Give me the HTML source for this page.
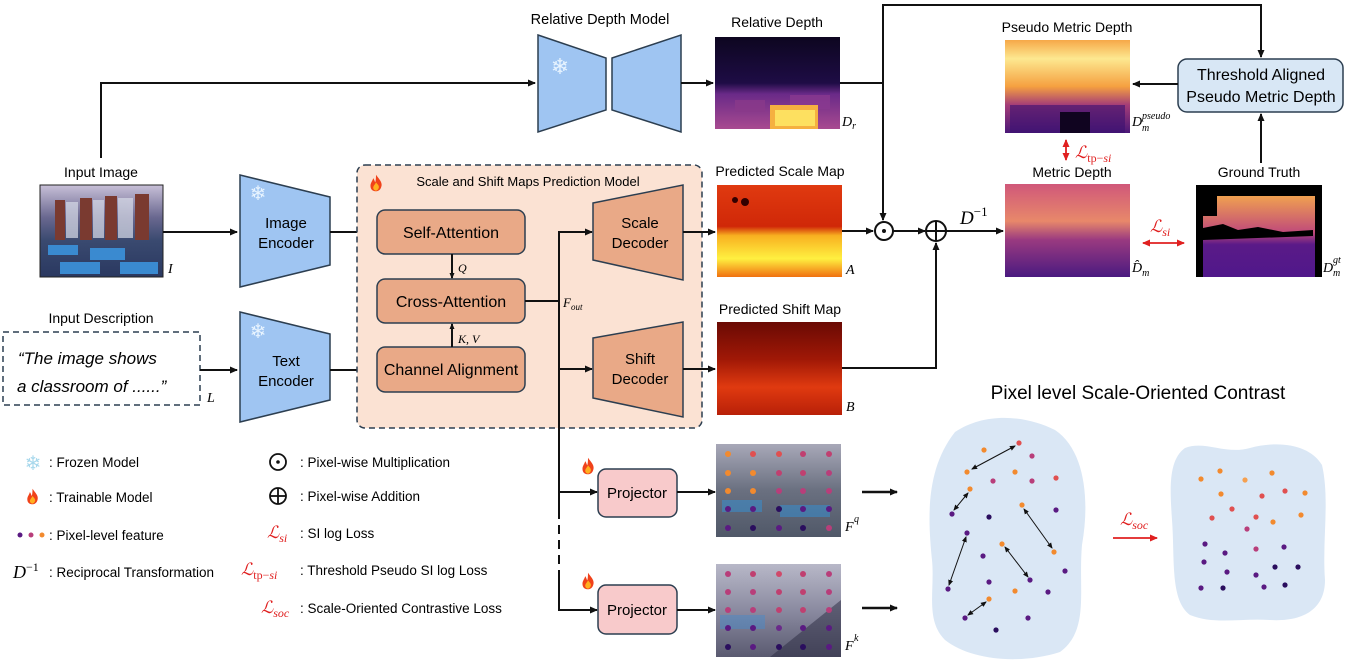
<!DOCTYPE html>
<html><head><meta charset="utf-8"><style>
html,body{margin:0;padding:0;background:#fff;}
svg{display:block;font-family:"Liberation Sans",sans-serif;}
.m{font-family:"Liberation Serif","DejaVu Serif",serif;font-style:italic;}
.r{fill:#e02020;}
</style></head><body>
<svg width="1353" height="662" viewBox="0 0 1353 662" xmlns="http://www.w3.org/2000/svg">
<defs>
<marker id="ah" markerWidth="8" markerHeight="8" refX="7" refY="4" orient="auto" markerUnits="userSpaceOnUse"><path d="M0,0.5 L8,4 L0,7.5 z" fill="#111"/></marker>
<marker id="rh" markerWidth="8" markerHeight="8" refX="7" refY="4" orient="auto-start-reverse" markerUnits="userSpaceOnUse"><path d="M0,0.5 L8,4 L0,7.5 z" fill="#e02020"/></marker>
<marker id="sh" markerWidth="6" markerHeight="6" refX="5" refY="3" orient="auto-start-reverse" markerUnits="userSpaceOnUse"><path d="M0,0.5 L6,3 L0,5.5 z" fill="#111"/></marker>
<symbol id="fire" viewBox="0 0 20 26"><path d="M10,1 C14,7 19,11 18,17 C17,23 13,25 10,25 C6,25 2,23 2,17 C2,13 5,10 6,6 C8,9 8,11 9,12 C10,8 10,4 10,1z" fill="#f0421a"/><path d="M10,12 C12,15 15,17 14,20 C13,23 11,24 10,24 C8,24 6,22 6,20 C6,17 9,15 10,12z" fill="#ffb020"/></symbol>
<linearGradient id="gRel" x1="0" y1="0" x2="0" y2="1"><stop offset="0" stop-color="#0d0620"/><stop offset="0.5" stop-color="#1e0c45"/><stop offset="0.62" stop-color="#6a2a88"/><stop offset="1" stop-color="#a84a90"/></linearGradient>
<linearGradient id="gPs" x1="0" y1="0" x2="0" y2="1"><stop offset="0" stop-color="#f6a848"/><stop offset="0.2" stop-color="#fde890"/><stop offset="0.5" stop-color="#f5a040"/><stop offset="0.7" stop-color="#a43c78"/><stop offset="1" stop-color="#4a1878"/></linearGradient>
<linearGradient id="gMet" x1="0" y1="0" x2="0" y2="1"><stop offset="0" stop-color="#d0587a"/><stop offset="0.4" stop-color="#e8886a"/><stop offset="0.6" stop-color="#9a3a80"/><stop offset="1" stop-color="#4a1a80"/></linearGradient>
<linearGradient id="gGT" x1="0" y1="0" x2="0" y2="1"><stop offset="0" stop-color="#f0a050"/><stop offset="0.45" stop-color="#c04a7a"/><stop offset="0.6" stop-color="#5a1a88"/><stop offset="1" stop-color="#50188a"/></linearGradient>
<linearGradient id="gSc" x1="0" y1="0" x2="0" y2="1"><stop offset="0" stop-color="#e03a10"/><stop offset="0.45" stop-color="#d02808"/><stop offset="0.55" stop-color="#f8b020"/><stop offset="0.8" stop-color="#fff040"/><stop offset="1" stop-color="#f07010"/></linearGradient>
<linearGradient id="gSh" x1="0" y1="0" x2="0" y2="1"><stop offset="0" stop-color="#6a0a04"/><stop offset="0.4" stop-color="#a01806"/><stop offset="0.7" stop-color="#e03a10"/><stop offset="1" stop-color="#b82008"/></linearGradient>
<linearGradient id="gIn" x1="0" y1="0" x2="0" y2="1"><stop offset="0" stop-color="#c8c0d8"/><stop offset="0.35" stop-color="#6a6890"/><stop offset="0.6" stop-color="#3a4a70"/><stop offset="1" stop-color="#2a3860"/></linearGradient>
<linearGradient id="gFq" x1="0" y1="0" x2="0" y2="1"><stop offset="0" stop-color="#a8a8b8"/><stop offset="0.5" stop-color="#6a7080"/><stop offset="1" stop-color="#505868"/></linearGradient>
<linearGradient id="gFk" x1="0" y1="0" x2="0" y2="1"><stop offset="0" stop-color="#b8b8c8"/><stop offset="0.5" stop-color="#8a8aa0"/><stop offset="1" stop-color="#5a5a70"/></linearGradient>
</defs>

<text x="600" y="24" font-size="14.5" text-anchor="middle">Relative Depth Model</text>
<polygon points="538,35 606,58 606,110 538,132" fill="#9fc5f2" stroke="#2c3e50" stroke-width="1.5"/>
<polygon points="612,58 681,35 681,132 612,110" fill="#9fc5f2" stroke="#2c3e50" stroke-width="1.5"/>
<text x="560" y="74" font-size="22" fill="#e8f4ff" text-anchor="middle">❄</text>
<polyline points="101,158 101,83 535,83" fill="none" stroke="#111" stroke-width="2" marker-end="url(#ah)"/>
<line x1="681" y1="83" x2="713" y2="83" stroke="#111" stroke-width="2" marker-end="url(#ah)"/>

<text x="777" y="27" font-size="14" text-anchor="middle">Relative Depth</text>
<rect x="715" y="37" width="125" height="92" fill="url(#gRel)"/>
<rect x="735" y="100" width="30" height="12" fill="#8a3a8a" opacity="0.8"/>
<rect x="790" y="95" width="40" height="14" fill="#8a3a90" opacity="0.8"/>
<rect x="770" y="105" width="48" height="24" fill="#f5b040"/><rect x="775" y="110" width="40" height="16" fill="#fde060"/>
<text x="842" y="126" class="m" font-size="14">D<tspan font-size="10" dy="3">r</tspan></text>

<polyline points="840,83 883,83" fill="none" stroke="#111" stroke-width="2"/>
<line x1="883" y1="4" x2="883" y2="220" stroke="#111" stroke-width="2" marker-end="url(#ah)"/>
<polyline points="883,5 1261,5 1261,57" fill="none" stroke="#111" stroke-width="2" marker-end="url(#ah)"/>

<rect x="1178" y="59" width="165" height="53" rx="9" fill="#d8e7f5" stroke="#2c3e50" stroke-width="1.5"/>
<text x="1261" y="80" font-size="16" text-anchor="middle">Threshold Aligned</text>
<text x="1261" y="102" font-size="16" text-anchor="middle">Pseudo Metric Depth</text>
<line x1="1178" y1="84" x2="1133" y2="84" stroke="#111" stroke-width="2" marker-end="url(#ah)"/>
<line x1="1261" y1="163" x2="1261" y2="114" stroke="#111" stroke-width="2" marker-end="url(#ah)"/>

<text x="1067" y="32" font-size="14" text-anchor="middle">Pseudo Metric Depth</text>
<rect x="1005" y="40" width="125" height="93" fill="url(#gPs)"/>
<rect x="1010" y="105" width="115" height="28" fill="#3a1070" opacity="0.6"/>
<rect x="1060" y="112" width="30" height="21" fill="#100420"/>
<text x="1132" y="126" class="m" font-size="14">D</text>
<text x="1142" y="131" class="m" font-size="10">m</text>
<text x="1142" y="119" class="m" font-size="10">pseudo</text>

<line x1="1066" y1="140" x2="1066" y2="160" stroke="#e02020" stroke-width="1.8" marker-start="url(#rh)" marker-end="url(#rh)"/>
<text x="1075" y="158" class="m r" font-size="17">ℒ<tspan font-size="12" dy="4" font-style="normal">tp−</tspan><tspan font-size="12">si</tspan></text>

<text x="1072" y="177" font-size="14" text-anchor="middle">Metric Depth</text>
<rect x="1005" y="184" width="125" height="93" fill="url(#gMet)"/>
<text x="1132" y="272" class="m" font-size="14">D̂<tspan font-size="10" dy="4">m</tspan></text>

<line x1="1143" y1="243" x2="1184" y2="243" stroke="#e02020" stroke-width="1.8" marker-start="url(#rh)" marker-end="url(#rh)"/>
<text x="1150" y="232" class="m r" font-size="17">ℒ<tspan font-size="12" dy="4">si</tspan></text>

<text x="1259" y="177" font-size="14" text-anchor="middle">Ground Truth</text>
<rect x="1196" y="185" width="126" height="92" fill="#000"/>
<rect x="1203" y="196" width="112" height="81" fill="url(#gGT)"/>
<rect x="1203" y="196" width="14" height="20" fill="#000"/>
<path d="M1203,228 l20,-4 l15,6 l20,-3 l25,5 l30,-2 l0,6 l-110,4z" fill="#000"/>
<text x="1323" y="272" class="m" font-size="14">D</text>
<text x="1333" y="276" class="m" font-size="10">m</text>
<text x="1333" y="263" class="m" font-size="10">gt</text>

<text x="101" y="177" font-size="14" text-anchor="middle">Input Image</text>
<rect x="40" y="185" width="123" height="92" fill="url(#gIn)" stroke="#222"/>
<g fill="#7a3a30"><rect x="55" y="200" width="10" height="40"/><rect x="80" y="198" width="12" height="42"/><rect x="105" y="196" width="12" height="44"/><rect x="135" y="194" width="14" height="46"/></g>
<g fill="#d8dce8" opacity="0.7"><rect x="66" y="202" width="12" height="36"/><rect x="93" y="200" width="11" height="38"/><rect x="118" y="198" width="15" height="40"/></g>
<g fill="#3a8ad0"><rect x="48" y="245" width="30" height="10"/><rect x="90" y="248" width="35" height="12"/><rect x="60" y="262" width="40" height="12"/><rect x="120" y="262" width="38" height="12"/></g>
<text x="168" y="273" class="m" font-size="14">I</text>
<line x1="163" y1="232" x2="237" y2="232" stroke="#111" stroke-width="2" marker-end="url(#ah)"/>

<polygon points="240,175 330,197 330,265 240,287" fill="#9fc5f2" stroke="#2c3e50" stroke-width="1.5"/>
<text x="258" y="200" font-size="20" fill="#e8f4ff" text-anchor="middle">❄</text>
<text x="286" y="228" font-size="15" text-anchor="middle">Image</text>
<text x="286" y="248" font-size="15" text-anchor="middle">Encoder</text>
<line x1="330" y1="232" x2="376" y2="232" stroke="#111" stroke-width="2" marker-end="url(#ah)"/>

<text x="101" y="323" font-size="14" text-anchor="middle">Input Description</text>
<rect x="3" y="332" width="197" height="73" fill="none" stroke="#2c3e50" stroke-width="1.5" stroke-dasharray="6,4"/>
<text x="18" y="364" font-size="17" font-style="italic">“The image shows</text>
<text x="17" y="392" font-size="17" font-style="italic">a classroom of ......”</text>
<text x="207" y="402" class="m" font-size="14">L</text>
<line x1="200" y1="370" x2="237" y2="370" stroke="#111" stroke-width="2" marker-end="url(#ah)"/>

<polygon points="240,312 330,334 330,400 240,422" fill="#9fc5f2" stroke="#2c3e50" stroke-width="1.5"/>
<text x="258" y="338" font-size="20" fill="#e8f4ff" text-anchor="middle">❄</text>
<text x="286" y="366" font-size="15" text-anchor="middle">Text</text>
<text x="286" y="386" font-size="15" text-anchor="middle">Encoder</text>
<line x1="330" y1="370" x2="376" y2="370" stroke="#111" stroke-width="2" marker-end="url(#ah)"/>

<rect x="357" y="165" width="345" height="263" rx="8" fill="#fbe2d3" stroke="#2c3e50" stroke-width="1.5" stroke-dasharray="6,4"/>
<use href="#fire" x="369" y="174" width="14" height="18"/>
<text x="528" y="186" font-size="13" text-anchor="middle">Scale and Shift Maps Prediction Model</text>
<rect x="377" y="210" width="148" height="44" rx="8" fill="#e9a987" stroke="#2c3e50" stroke-width="1.5"/>
<text x="451" y="238" font-size="16" text-anchor="middle">Self-Attention</text>
<rect x="377" y="279" width="148" height="44" rx="8" fill="#e9a987" stroke="#2c3e50" stroke-width="1.5"/>
<text x="451" y="307" font-size="16" text-anchor="middle">Cross-Attention</text>
<rect x="377" y="347" width="148" height="45" rx="8" fill="#e9a987" stroke="#2c3e50" stroke-width="1.5"/>
<text x="451" y="375" font-size="16" text-anchor="middle">Channel Alignment</text>
<line x1="452" y1="254" x2="452" y2="278" stroke="#111" stroke-width="2" marker-end="url(#sh)"/>
<text x="458" y="272" class="m" font-size="12">Q</text>
<line x1="452" y1="347" x2="452" y2="324" stroke="#111" stroke-width="2" marker-end="url(#sh)"/>
<text x="458" y="343" class="m" font-size="12">K, V</text>

<line x1="525" y1="301" x2="559" y2="301" stroke="#111" stroke-width="2"/>
<text x="563" y="307" class="m" font-size="13">F<tspan font-size="9" dy="3">out</tspan></text>
<line x1="559" y1="232" x2="559" y2="510" stroke="#111" stroke-width="2"/>
<line x1="559" y1="510" x2="559" y2="570" stroke="#111" stroke-width="2" stroke-dasharray="9,6"/>
<line x1="559" y1="570" x2="559" y2="611" stroke="#111" stroke-width="2"/>
<line x1="558" y1="232" x2="592" y2="232" stroke="#111" stroke-width="2" marker-end="url(#ah)"/>
<line x1="558" y1="369" x2="592" y2="369" stroke="#111" stroke-width="2" marker-end="url(#ah)"/>

<polygon points="593,203 683,185 683,280 593,260" fill="#e9a987" stroke="#2c3e50" stroke-width="1.5"/>
<text x="640" y="228" font-size="15" text-anchor="middle">Scale</text>
<text x="640" y="248" font-size="15" text-anchor="middle">Decoder</text>
<polygon points="593,338 683,322 683,417 593,398" fill="#e9a987" stroke="#2c3e50" stroke-width="1.5"/>
<text x="640" y="364" font-size="15" text-anchor="middle">Shift</text>
<text x="640" y="384" font-size="15" text-anchor="middle">Decoder</text>
<line x1="683" y1="232" x2="715" y2="232" stroke="#111" stroke-width="2" marker-end="url(#ah)"/>
<line x1="683" y1="369" x2="715" y2="369" stroke="#111" stroke-width="2" marker-end="url(#ah)"/>

<text x="780" y="176" font-size="14" text-anchor="middle">Predicted Scale Map</text>
<rect x="717" y="185" width="125" height="92" fill="url(#gSc)"/>
<circle cx="735" cy="200" r="3" fill="#300"/><circle cx="745" cy="202" r="4" fill="#300"/>
<text x="846" y="274" class="m" font-size="14">A</text>
<line x1="842" y1="231" x2="873" y2="231" stroke="#111" stroke-width="2" marker-end="url(#ah)"/>
<circle cx="884" cy="231" r="9" fill="#fff" stroke="#111" stroke-width="2"/><circle cx="884" cy="231" r="2" fill="#111"/>
<line x1="893" y1="231" x2="925" y2="231" stroke="#111" stroke-width="2" marker-end="url(#ah)"/>
<circle cx="936" cy="231" r="10" fill="#fff" stroke="#111" stroke-width="2"/>
<line x1="926" y1="231" x2="946" y2="231" stroke="#111" stroke-width="2"/><line x1="936" y1="221" x2="936" y2="241" stroke="#111" stroke-width="2"/>
<line x1="946" y1="231" x2="1003" y2="231" stroke="#111" stroke-width="2" marker-end="url(#ah)"/>
<text x="960" y="224" class="m" font-size="19">D<tspan font-size="13" dy="-8" font-style="normal">−1</tspan></text>

<text x="780" y="314" font-size="14" text-anchor="middle">Predicted Shift Map</text>
<rect x="717" y="322" width="125" height="93" fill="url(#gSh)"/>
<text x="846" y="411" class="m" font-size="14">B</text>
<polyline points="842,368 936,368 936,243" fill="none" stroke="#111" stroke-width="2" marker-end="url(#ah)"/>

<line x1="558" y1="492" x2="597" y2="492" stroke="#111" stroke-width="2" marker-end="url(#ah)"/>
<line x1="558" y1="610" x2="597" y2="610" stroke="#111" stroke-width="2" marker-end="url(#ah)"/>
<use href="#fire" x="581" y="457" width="14" height="18"/>
<use href="#fire" x="581" y="572" width="14" height="18"/>
<rect x="598" y="469" width="79" height="48" rx="8" fill="#f8cacb" stroke="#2c3e50" stroke-width="1.5"/>
<text x="637" y="498" font-size="15" text-anchor="middle">Projector</text>
<rect x="598" y="585" width="79" height="49" rx="8" fill="#f8cacb" stroke="#2c3e50" stroke-width="1.5"/>
<text x="637" y="615" font-size="15" text-anchor="middle">Projector</text>
<line x1="677" y1="492" x2="715" y2="492" stroke="#111" stroke-width="2" marker-end="url(#ah)"/>
<line x1="677" y1="610" x2="715" y2="610" stroke="#111" stroke-width="2" marker-end="url(#ah)"/>

<rect x="716" y="444" width="125" height="93" fill="url(#gFq)"/>
<g fill="#3a8ac8" opacity="0.6"><rect x="722" y="500" width="40" height="12"/><rect x="780" y="505" width="50" height="12"/></g>
<rect x="716" y="564" width="125" height="93" fill="url(#gFk)"/>
<g fill="#4a8ac8" opacity="0.5"><rect x="720" y="615" width="45" height="14"/></g>
<g fill="#2a2a40" opacity="0.5"><polygon points="770,657 841,600 841,657"/></g>
<g>
<circle cx="728" cy="454" r="3" fill="#f28a2e"/><circle cx="753" cy="454" r="3" fill="#e05050"/><circle cx="779" cy="454" r="3" fill="#e05050"/><circle cx="803" cy="454" r="3" fill="#c04070"/><circle cx="829" cy="454" r="3" fill="#c04070"/>
<circle cx="728" cy="473" r="3" fill="#f28a2e"/><circle cx="753" cy="473" r="3" fill="#f28a2e"/><circle cx="779" cy="473" r="3" fill="#c04070"/><circle cx="803" cy="473" r="3" fill="#c04070"/><circle cx="829" cy="473" r="3" fill="#b83e7a"/>
<circle cx="728" cy="491" r="3" fill="#f28a2e"/><circle cx="753" cy="491" r="3" fill="#f28a2e"/><circle cx="779" cy="491" r="3" fill="#b83e7a"/><circle cx="803" cy="491" r="3" fill="#b83e7a"/><circle cx="829" cy="491" r="3" fill="#b83e7a"/>
<circle cx="728" cy="509" r="3" fill="#5a1a82"/><circle cx="753" cy="509" r="3" fill="#5a1a82"/><circle cx="779" cy="509" r="3" fill="#2a0e5e"/><circle cx="803" cy="509" r="3" fill="#5a1a82"/><circle cx="829" cy="509" r="3" fill="#5a1a82"/>
<circle cx="728" cy="528" r="3" fill="#5a1a82"/><circle cx="753" cy="528" r="3" fill="#2a0e5e"/><circle cx="779" cy="528" r="3" fill="#5a1a82"/><circle cx="803" cy="528" r="3" fill="#2a0e5e"/><circle cx="829" cy="528" r="3" fill="#b83e7a"/>
<circle cx="728" cy="574" r="3" fill="#b83e7a"/><circle cx="753" cy="574" r="3" fill="#c04070"/><circle cx="779" cy="574" r="3" fill="#d04a6a"/><circle cx="803" cy="574" r="3" fill="#c04070"/><circle cx="829" cy="574" r="3" fill="#b83e7a"/>
<circle cx="728" cy="592" r="3" fill="#b83e7a"/><circle cx="753" cy="592" r="3" fill="#b83e7a"/><circle cx="779" cy="592" r="3" fill="#c04070"/><circle cx="803" cy="592" r="3" fill="#c04070"/><circle cx="829" cy="592" r="3" fill="#b83e7a"/>
<circle cx="728" cy="610" r="3" fill="#b83e7a"/><circle cx="753" cy="610" r="3" fill="#b83e7a"/><circle cx="779" cy="610" r="3" fill="#c04070"/><circle cx="803" cy="610" r="3" fill="#c04070"/><circle cx="829" cy="610" r="3" fill="#b83e7a"/>
<circle cx="728" cy="628" r="3" fill="#5a1a82"/><circle cx="753" cy="628" r="3" fill="#5a1a82"/><circle cx="779" cy="628" r="3" fill="#6a2a8a"/><circle cx="803" cy="628" r="3" fill="#5a1a82"/><circle cx="829" cy="628" r="3" fill="#5a1a82"/>
<circle cx="728" cy="647" r="3" fill="#2a0e5e"/><circle cx="753" cy="647" r="3" fill="#5a1a82"/><circle cx="779" cy="647" r="3" fill="#2a0e5e"/><circle cx="803" cy="647" r="3" fill="#2a0e5e"/><circle cx="829" cy="647" r="3" fill="#5a1a82"/>
</g>
<text x="845" y="531" class="m" font-size="14">F</text><text x="854" y="522" class="m" font-size="10">q</text>
<text x="845" y="650" class="m" font-size="14">F</text><text x="854" y="641" class="m" font-size="10">k</text>
<line x1="862" y1="492" x2="897" y2="492" stroke="#111" stroke-width="2.5" marker-end="url(#ah)"/>
<line x1="862" y1="608" x2="897" y2="608" stroke="#111" stroke-width="2.5" marker-end="url(#ah)"/>

<text x="1138" y="399" font-size="19" text-anchor="middle">Pixel level Scale-Oriented Contrast</text>
<path d="M955,432 C985,412 1025,415 1055,430 C1085,450 1090,500 1082,545 C1078,590 1090,630 1060,652 C1020,665 970,660 945,640 C925,620 935,590 932,560 C928,520 925,470 955,432z" fill="#dae7f5"/>
<path d="M1185,448 C1205,440 1225,455 1250,448 C1280,440 1310,445 1322,465 C1330,500 1322,540 1325,580 C1325,608 1305,622 1270,620 C1240,618 1215,625 1190,615 C1170,600 1175,560 1172,520 C1170,490 1168,460 1185,448z" fill="#dae7f5"/>
<g fill="#f28a2e"><circle cx="984" cy="450" r="2.6"/><circle cx="967" cy="472" r="2.6"/><circle cx="1015" cy="472" r="2.6"/><circle cx="970" cy="489" r="2.6"/><circle cx="1022" cy="505" r="2.6"/><circle cx="1002" cy="544" r="2.6"/><circle cx="1054" cy="552" r="2.6"/><circle cx="1015" cy="591" r="2.6"/><circle cx="989" cy="599" r="2.6"/></g>
<g fill="#e05050"><circle cx="1019" cy="443" r="2.6"/><circle cx="1056" cy="478" r="2.6"/></g>
<g fill="#b83e7a"><circle cx="1032" cy="456" r="2.6"/><circle cx="993" cy="481" r="2.6"/><circle cx="1032" cy="481" r="2.6"/></g>
<g fill="#5a1a82"><circle cx="952" cy="514" r="2.6"/><circle cx="1056" cy="510" r="2.6"/><circle cx="967" cy="533" r="2.6"/><circle cx="983" cy="556" r="2.6"/><circle cx="1065" cy="571" r="2.6"/><circle cx="989" cy="582" r="2.6"/><circle cx="1030" cy="580" r="2.6"/><circle cx="948" cy="589" r="2.6"/><circle cx="1048" cy="592" r="2.6"/><circle cx="965" cy="618" r="2.6"/><circle cx="1028" cy="618" r="2.6"/></g>
<g fill="#2a0e5e"><circle cx="989" cy="517" r="2.6"/><circle cx="996" cy="630" r="2.6"/></g>
<g stroke="#111" stroke-width="1" marker-start="url(#sh)" marker-end="url(#sh)">
<line x1="1015" y1="446" x2="972" y2="469"/><line x1="968" y1="493" x2="954" y2="510"/><line x1="1024" y1="509" x2="1052" y2="548"/><line x1="966" y1="537" x2="949" y2="585"/><line x1="1005" y1="547" x2="1028" y2="577"/><line x1="986" y1="602" x2="968" y2="615"/>
</g>
<g fill="#f28a2e"><circle cx="1201" cy="479" r="2.6"/><circle cx="1220" cy="471" r="2.6"/><circle cx="1245" cy="480" r="2.6" fill="#f5a050"/><circle cx="1272" cy="473" r="2.6"/><circle cx="1221" cy="494" r="2.6"/><circle cx="1305" cy="493" r="2.6"/><circle cx="1273" cy="522" r="2.6"/><circle cx="1301" cy="515" r="2.6"/></g>
<g fill="#e05050"><circle cx="1262" cy="496" r="2.6"/><circle cx="1285" cy="491" r="2.6"/><circle cx="1232" cy="509" r="2.6"/><circle cx="1212" cy="518" r="2.6"/><circle cx="1256" cy="517" r="2.6"/></g>
<g fill="#b83e7a"><circle cx="1247" cy="529" r="2.6"/><circle cx="1256" cy="549" r="2.6"/></g>
<g fill="#5a1a82"><circle cx="1205" cy="544" r="2.6"/><circle cx="1284" cy="547" r="2.6"/><circle cx="1225" cy="553" r="2.6"/><circle cx="1204" cy="562" r="2.6"/><circle cx="1227" cy="572" r="2.6"/><circle cx="1256" cy="575" r="2.6"/><circle cx="1201" cy="588" r="2.6"/><circle cx="1264" cy="587" r="2.6"/></g>
<g fill="#2a0e5e"><circle cx="1275" cy="567" r="2.6"/><circle cx="1298" cy="567" r="2.6"/><circle cx="1223" cy="588" r="2.6"/><circle cx="1285" cy="585" r="2.6"/></g>
<text x="1120" y="525" class="m r" font-size="17">ℒ<tspan font-size="12" dy="4">soc</tspan></text>
<line x1="1113" y1="538" x2="1157" y2="538" stroke="#e02020" stroke-width="1.8" marker-end="url(#rh)"/>

<text x="33" y="470" font-size="20" fill="#a8d8ec" text-anchor="middle">❄</text>
<text x="49" y="467" font-size="13.5">: Frozen Model</text>
<use href="#fire" x="26" y="488" width="13" height="17"/>
<text x="49" y="502" font-size="13.5">: Trainable Model</text>
<circle cx="20" cy="535" r="2.5" fill="#5a1a82"/><circle cx="31" cy="535" r="2.5" fill="#b83e7a"/><circle cx="42" cy="535" r="2.5" fill="#f28a2e"/>
<text x="49" y="540" font-size="13.5">: Pixel-level feature</text>
<text x="13" y="578" class="m" font-size="18">D<tspan font-size="12" dy="-7" font-style="normal">−1</tspan></text>
<text x="49" y="577" font-size="13.5">: Reciprocal Transformation</text>
<circle cx="278" cy="462" r="8" fill="none" stroke="#111" stroke-width="1.8"/><circle cx="278" cy="462" r="1.8" fill="#111"/>
<text x="300" y="467" font-size="13.5">: Pixel-wise Multiplication</text>
<circle cx="278" cy="496" r="8" fill="none" stroke="#111" stroke-width="1.8"/><line x1="270" y1="496" x2="286" y2="496" stroke="#111" stroke-width="1.8"/><line x1="278" y1="488" x2="278" y2="504" stroke="#111" stroke-width="1.8"/>
<text x="300" y="501" font-size="13.5">: Pixel-wise Addition</text>
<text x="267" y="538" class="m r" font-size="17">ℒ<tspan font-size="12" dy="4">si</tspan></text>
<text x="300" y="538" font-size="13.5">: SI log Loss</text>
<text x="241" y="575" class="m r" font-size="17">ℒ<tspan font-size="12" dy="4" font-style="normal">tp−</tspan><tspan font-size="12">si</tspan></text>
<text x="300" y="575" font-size="13.5">: Threshold Pseudo SI log Loss</text>
<text x="261" y="613" class="m r" font-size="17">ℒ<tspan font-size="12" dy="4">soc</tspan></text>
<text x="300" y="613" font-size="13.5">: Scale-Oriented Contrastive Loss</text>
</svg>
</body></html>
